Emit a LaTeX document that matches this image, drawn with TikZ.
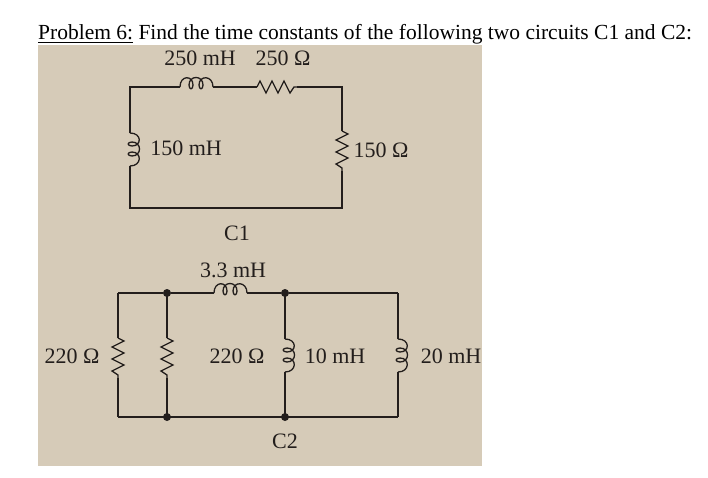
\documentclass[tikz,border=0pt]{standalone}
\usepackage{fontspec}
\setmainfont{Liberation Serif}
\definecolor{paper}{RGB}{214,203,184}
\definecolor{ink}{RGB}{35,30,28}
\tikzset{x=1pt,y=-1pt,
 wire/.style={draw=ink,line width=1.3pt},
 lbl/.style={text=ink,font=\fontsize{22}{22}\selectfont,inner sep=0pt},
 dot/.style={circle,fill=ink,inner sep=0pt,minimum size=8pt},
 ind/.pic={\draw[ink,line width=1.3pt]
   (0,0) .. controls (0,-12) and (13,-12) .. (13,-2) .. controls (13,3) and (9,3) .. (9,-2)
   .. controls (9,-12) and (23,-12) .. (23,-2) .. controls (23,3) and (19,3) .. (19,-2)
   .. controls (19,-12) and (33,-12) .. (33,0);},
 resh/.pic={\draw[ink,line width=1.3pt,line join=miter]
   (0,0) -- (3,-6) -- (9,6) -- (15,-6) -- (21,6) -- (27,-6) -- (33,6) -- (37,0) -- (40,0);}}
\begin{document}
\begin{tikzpicture}
\useasboundingbox (0,0) rectangle (708,478);
\fill[white] (0,0) rectangle (708,478);
\fill[paper] (38,45) rectangle (482,466);
\node[anchor=base west,inner sep=0pt,font=\fontsize{21.5}{22}\selectfont] (title) at (38,40) {\underline{Problem 6:} Find the time constants of the following two circuits C1 and C2:};
% C1
\coordinate (tl) at (130,87); \coordinate (tr) at (342,87);
\coordinate (bl) at (130,208); \coordinate (br) at (342,208);
\coordinate (la) at (180,87); \coordinate (lb) at (213,87);
\coordinate (ra) at (257,87); \coordinate (rb) at (297,87);
\coordinate (va) at (130,133); \coordinate (vb) at (130,166);
\coordinate (wa) at (342,131); \coordinate (wb) at (342,171);
\draw[wire] (va) -- (tl) -- (la);
\pic at (la) {ind};
\draw[wire] (lb) -- (ra);
\pic at (ra) {resh};
\draw[wire] (rb) -- (tr) -- (wa);
\pic[rotate=-90] at (wa) {resh};
\draw[wire] (wb) -- (br) -- (bl) -- (vb);
\pic[rotate=-90] at (va) {ind};
\node[lbl] (t1) at (200,58) {250 mH};
\node[lbl] (t2) at (283,58) {250 Ω};
\node[lbl] (t3) at (186,148) {150 mH};
\node[lbl] (t4) at (381,150) {150 Ω};
\node[lbl] (c1) at (237,233) {C1};
% C2
\coordinate (p1) at (118,293); \coordinate (q1) at (118,417);
\node[dot] (p2) at (167,293) {}; \node[dot] (q2) at (167,417) {};
\node[dot] (p3) at (285,293) {}; \node[dot] (q3) at (285,417) {};
\coordinate (p4) at (398,293); \coordinate (q4) at (398,417);
\coordinate (ia) at (214,293); \coordinate (ib) at (247,293);
\draw[wire] (p1) -- (p2) -- (ia);
\pic at (ia) {ind};
\draw[wire] (ib) -- (p3) -- (p4);
\draw[wire] (q1) -- (q4);
\foreach \x in {118,167}{
  \draw[wire] (\x,293) -- (\x,338);
  \pic[rotate=-90] at (\x,338) {resh};
  \draw[wire] (\x,378) -- (\x,417);}
\foreach \x in {285,398}{
  \draw[wire] (\x,293) -- (\x,339);
  \pic[rotate=-90] at (\x,339) {ind};
  \draw[wire] (\x,372) -- (\x,417);}
\node[lbl] (s1) at (233,270) {3.3 mH};
\node[lbl] (s2) at (72,356) {220 Ω};
\node[lbl] (s3) at (237,356) {220 Ω};
\node[lbl] (s4) at (335,356) {10 mH};
\node[lbl] (s5) at (451,356) {20 mH};
\node[lbl] (c2) at (285,441) {C2};
\end{tikzpicture}
\end{document}
